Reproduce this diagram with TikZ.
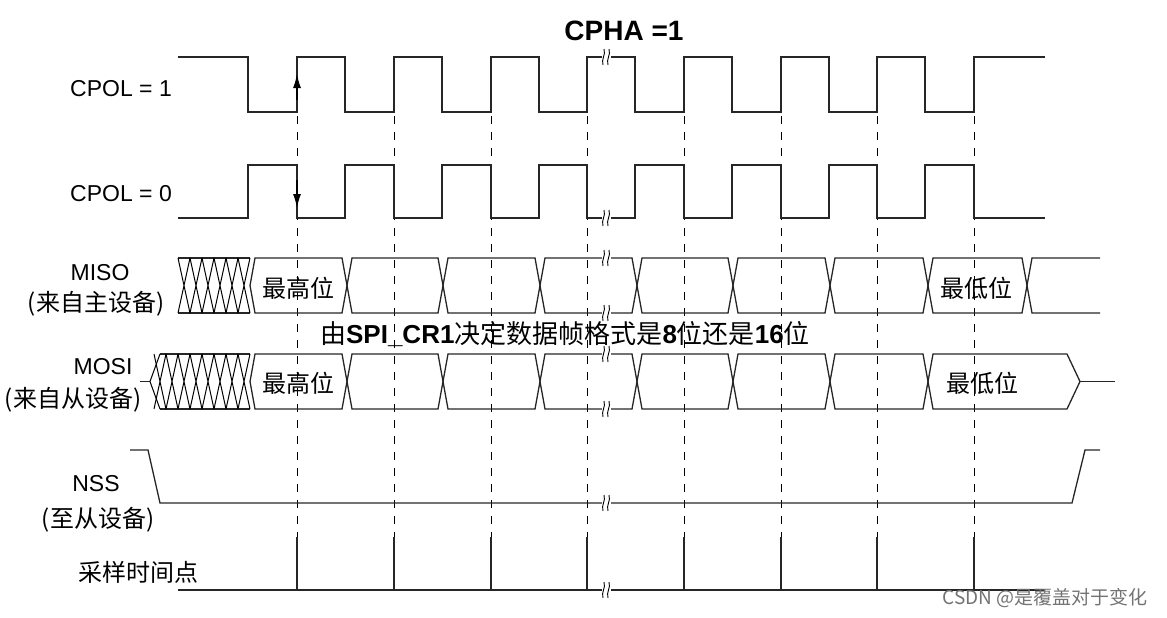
\documentclass[tikz,border=0pt]{standalone}
\usepackage{fontspec}
\usetikzlibrary{arrows.meta}
\setmainfont{Liberation Sans}
\newfontfamily\cjk{Noto Sans CJK SC}
\begin{document}
\begin{tikzpicture}[x=1pt,y=-1pt,line width=1.3pt,
  sig/.style={line width=1.3pt,black!85},
  lbl/.style={font=\fontsize{23}{26}\selectfont,inner sep=0},
  cl/.style={font=\cjk\fontsize{24}{27}\selectfont,inner sep=0},
  brk/.style={line width=0.9pt}]
\useasboundingbox (0,0) rectangle (1167,618);
% dashed sample lines
\foreach \x in {297,394,491,587,684,781,877,974}
  \draw[line width=0.8pt,dash pattern=on 8pt off 8pt] (\x,100) -- (\x,537);
% CPOL=1
\draw[sig] (178,57) -- (248,57) -- (248,112)
  \foreach \x in {297,394,491,587,684,781,877} {-- (\x,112) -- (\x,57) -- (\x+48,57) -- (\x+48,112)} -- (974,112) -- (974,57) -- (1045,57);
% CPOL=0
\draw[sig] (178,218) -- (248,218) -- (248,165)
  \foreach \x in {297,394,491,587,684,781,877} {-- (\x,165) -- (\x,218) -- (\x+48,218) -- (\x+48,165)} -- (974,165) -- (974,218) -- (1045,218);
% arrows
\draw[-{Latex[length=14pt,width=8pt]},line width=1.3pt] (297,100) -- (297,74);
\draw[-{Latex[length=14pt,width=8pt]},line width=1.3pt] (297,180) -- (297,208);
% MISO bus
\draw[sig] (178,258) -- (250,258) (178,313) -- (250,313);
\foreach \x in {178,190,...,238} \draw[line width=1pt] (\x,258) -- (\x+12,313) (\x,313) -- (\x+12,258);
\foreach \a/\b in {250/347,347/443,443/540,540/637,637/733,733/830,830/928,928/1027}
  \draw[sig] (\a,285.5) -- (\a+5,258) -- (\b-5,258) -- (\b,285.5) -- (\b-5,313) -- (\a+5,313) -- cycle;
\draw[sig] (1100,258) -- (1032,258) -- (1027,285.5) -- (1032,313) -- (1100,313);
% MOSI bus
\draw[sig] (140,381.5) -- (150,381.5);
\draw[sig] (160,354) -- (250,354) (160,409) -- (250,409);
\draw[line width=1pt] (150,381.5) -- (160,354) (150,381.5) -- (160,409);
\foreach \x in {154,166,...,238} \draw[line width=1pt] (\x,354) -- (\x+12,409) (\x,409) -- (\x+12,354);
\foreach \a/\b in {250/347,347/443,443/540,540/637,637/733,733/830,830/928}
  \draw[sig] (\a,381.5) -- (\a+5,354) -- (\b-5,354) -- (\b,381.5) -- (\b-5,409) -- (\a+5,409) -- cycle;
\draw[sig] (928,381.5) -- (933,354) -- (1067,354) -- (1080,381.5) -- (1067,409) -- (933,409) -- cycle;
\draw[sig] (1080,381.5) -- (1115,381.5);
% NSS
\draw[sig] (130,450) -- (148,450) -- (160,503) -- (1072,503) -- (1085,450) -- (1100,450);
% sampling
\draw[sig] (178,590) -- (1045,590);
\foreach \x in {297,394,491,587,684,781,877,974} \draw[sig] (\x,537) -- (\x,590);
% break marks
\foreach \y in {57,218,258,313,354,409,503,590} {
  \fill[white] (602,\y-8) rectangle (611,\y+8);
  \draw[brk] (603,\y+8) .. controls (601,\y+2) and (606,\y-2) .. (604,\y-8);
  \draw[brk] (608,\y+8) .. controls (606,\y+2) and (611,\y-2) .. (609,\y-8);
}
% labels
\node[font=\bfseries\fontsize{28}{32}\selectfont] (t) at (624,31) {CPHA =1};
\node[lbl] (c1) at (121,89) {CPOL = 1};
\node[lbl] (c0) at (121,194) {CPOL = 0};
\node[lbl] (mi) at (100,273) {MISO};
\node[cl] (mi2) at (96,304) {(来自主设备)};
\node[lbl] (mo) at (103,367) {MOSI};
\node[cl] (mo2) at (73,400) {(来自从设备)};
\node[lbl] (ns) at (96,484) {NSS};
\node[cl] (ns2) at (98,520) {(至从设备)};
\node[cl] (sp) at (138,572) {采样时间点};
\node[cl] (h1) at (298,288) {最高位};
\node[cl] (l1) at (976,288) {最低位};
\node[cl] (h2) at (298,383) {最高位};
\node[cl] (l2) at (982,383) {最低位};
\node[inner sep=0,font=\fontsize{26}{30}\selectfont] (mid) at (565,334)
 {{\cjk 由}\textbf{SPI\_CR1}{\cjk 决定数据帧格式是}\textbf{8}{\cjk 位还是}\textbf{16}{\cjk 位}};
\node[inner sep=0,text=black!55,font=\cjk\fontsize{19}{22}\selectfont] (wm) at (1045,598) {CSDN @是覆盖对于变化};
\end{tikzpicture}
\end{document}
